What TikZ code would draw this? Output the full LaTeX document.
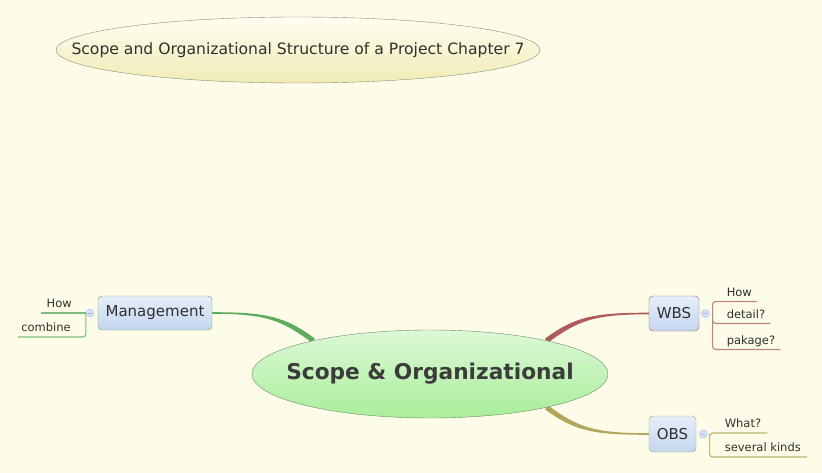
\documentclass[tikz,border=0pt]{standalone}
\usepackage{fontspec}
\setmainfont{DejaVu Sans}
\usetikzlibrary{positioning}
\usetikzlibrary{calc}
\usetikzlibrary{shapes.geometric}

\definecolor{paper}{HTML}{FCFCE8}
\definecolor{ink}{HTML}{303030}
\definecolor{inkdark}{HTML}{3C3C3C}
\definecolor{titletop}{HTML}{FFFFF2}
\definecolor{titlebot}{HTML}{F0EBB4}
\definecolor{titleline}{HTML}{8C8C78}
\definecolor{centretop}{HTML}{DDF8D6}
\definecolor{centrebot}{HTML}{A9EE9A}
\definecolor{centreline}{HTML}{6C8C6C}
\definecolor{topictop}{HTML}{E6EEFA}
\definecolor{topicbot}{HTML}{C4D6EE}
\definecolor{knobfill}{HTML}{D6E2F8}
\definecolor{knobline}{HTML}{A4BAE0}
\definecolor{mgmtline}{HTML}{5EAC5E}
\definecolor{mgmtleaf}{HTML}{7CBC7C}
\definecolor{wbsline}{HTML}{B05A5A}
\definecolor{wbsleaf}{HTML}{BC8484}
\definecolor{obsline}{HTML}{B0A65C}
\definecolor{obsleaf}{HTML}{BCB474}

\pgfdeclarelayer{background}
\pgfsetlayers{background,main}

\tikzset{
  topic/.style={draw=#1, rounded corners=4pt, top color=topictop, bottom color=topicbot,
    minimum height=34pt, inner xsep=6pt, text=ink, font=\fontsize{15}{18}\selectfont},
  knob/.style={circle, draw=knobline, fill=knobfill, minimum size=8pt, inner sep=0pt,
    path picture={\draw[knobline] ([xshift=-2pt]path picture bounding box.center)
      -- ([xshift=2pt]path picture bounding box.center);}},
  leaf/.style={inner xsep=0pt, inner ysep=5pt, text depth=0pt, text=ink,
    font=\fontsize{11.5}{14}\selectfont},
  twig/.style={draw=#1, line width=1.1pt, rounded corners=3pt},
}

\begin{document}
\begin{tikzpicture}[x=1pt, y=-1pt]
  \useasboundingbox (0,0) rectangle (822,473);

  % Title and central topic
  \node[ellipse, draw=titleline, top color=titletop, bottom color=titlebot,
        minimum width=484pt, minimum height=66pt, inner xsep=-60pt, inner ysep=0pt, text=ink,
        font=\fontsize{15.6}{18}\selectfont] (title) at (298,50)
        {Scope and Organizational Structure of a Project Chapter 7};
  \node[ellipse, draw=centreline, top color=centretop, bottom color=centrebot,
        minimum width=356pt, minimum height=88pt, inner xsep=-30pt, inner ysep=0pt, text=inkdark,
        font=\bfseries\fontsize{21.7}{25}\selectfont] (centre) at (430,374)
        {Scope \& Organizational};

  % Main topics
  \node[topic=mgmtline, minimum width=114pt] (mgmt) at (155,313) {Management};
  \node[topic=wbsline, minimum width=50pt, minimum height=35pt] (wbs) at (674,313.5) {WBS};
  \node[topic=obsline, minimum width=47pt, minimum height=36pt] (obs) at (672.5,434) {OBS};

  \node[knob, left=3.5pt of mgmt] (mgmtknob) {};
  \node[knob, right=2pt of wbs] (wbsknob) {};
  \node[knob, right=3pt of obs] (obsknob) {};

  % Tapered branches
  \begin{pgfonlayer}{background}
    \fill[paper] (0,0) rectangle (822,473);
    \fill[mgmtline] ($(mgmt.east)+(0,-0.8)$) .. controls +(55,0) and +(-30,-22) .. ($(centre.164)+(1.5,-2)$)
      -- ($(centre.164)+(-1.5,2)$) .. controls +(-30,-22) and +(55,0) .. ($(mgmt.east)+(0,0.8)$) -- cycle;
    \fill[wbsline] ($(wbs.west)+(0,-0.8)$) .. controls +(-55,0) and +(30,-22) .. ($(centre.16)+(-1.5,-2)$)
      -- ($(centre.16)+(1.5,2)$) .. controls +(30,-22) and +(-55,0) .. ($(wbs.west)+(0,0.8)$) -- cycle;
    \fill[obsline] ($(obs.west)+(0,0.8)$) .. controls +(-55,0) and +(30,22) .. ($(centre.-16)+(-1.5,2)$)
      -- ($(centre.-16)+(1.5,-2)$) .. controls +(30,22) and +(-55,0) .. ($(obs.west)+(0,-0.8)$) -- cycle;
  \end{pgfonlayer}

  % Subtopics of Management
  \coordinate (mgmtfork) at (mgmtknob.west);
  \node[leaf, anchor=south east] (mhow) at ($(mgmtfork)+(-14,0)$) {How};
  \node[leaf, anchor=south east] (mcomb) at ($(mgmtfork)+(-15,24)$) {combine};
  \draw[twig=mgmtleaf] (mgmtfork) -- ($(mhow.south west)+(-5,0)$);
  \draw[twig=mgmtleaf] (mgmtfork) |- ($(mcomb.south west)+(-3,0)$);

  % Subtopics of WBS
  \coordinate (wbsfork) at ($(wbsknob.east)+(3,0)$);
  \foreach \leafname/\dy/\leaftext in {whow/-12/How, wdetail/10/detail?, wpak/36/pakage?}{
    \node[leaf, anchor=south west] (\leafname) at ($(wbsfork)+(14,\dy)$) {\leaftext};
    \draw[twig=wbsleaf] (wbsfork) |- ($(\leafname.south east)+(5,0)$);
  }

  % Subtopics of OBS
  \coordinate (obsfork) at ($(obsknob.east)+(2,0)$);
  \foreach \leafname/\dy/\leaftext in {owhat/-1/What?, okinds/23/several kinds}{
    \node[leaf, anchor=south west] (\leafname) at ($(obsfork)+(15,\dy)$) {\leaftext};
    \draw[twig=obsleaf] (obsfork) |- ($(\leafname.south east)+(6,0)$);
  }
\end{tikzpicture}
\end{document}
